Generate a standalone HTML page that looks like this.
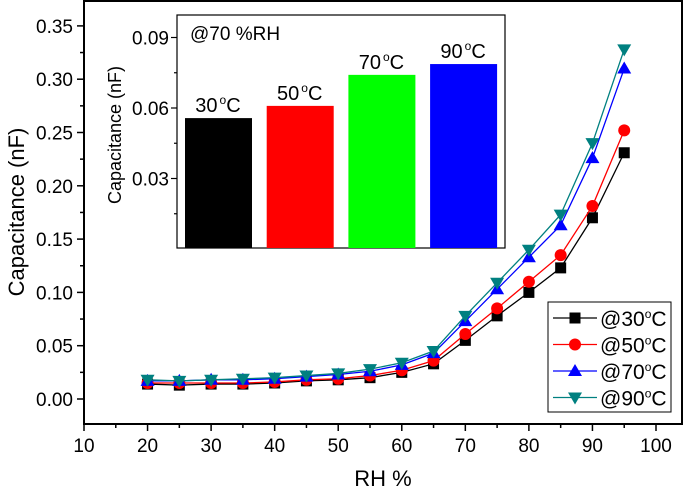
<!DOCTYPE html>
<html><head><meta charset="utf-8"><style>
body{margin:0;background:#fff}
svg{display:block;font-family:"Liberation Sans",Arial,sans-serif}
</style></head><body>
<svg id="chart" width="685" height="493" viewBox="0 0 685 493"></svg>
<script>
const rh=[20,25,30,35,40,45,50,55,60,65,70,75,80,85,90,95];
const s30=[0.014,0.013,0.014,0.014,0.015,0.017,0.018,0.020,0.025,0.033,0.055,0.078,0.100,0.123,0.170,0.231];
const s50=[0.015,0.015,0.015,0.015,0.016,0.018,0.019,0.022,0.027,0.036,0.061,0.085,0.110,0.135,0.181,0.252];
const s70=[0.017,0.017,0.018,0.018,0.019,0.021,0.023,0.026,0.032,0.043,0.073,0.103,0.133,0.163,0.226,0.310];
const s90=[0.018,0.017,0.018,0.019,0.020,0.022,0.024,0.028,0.034,0.045,0.078,0.109,0.140,0.173,0.240,0.328];
const xTicks=[10,20,30,40,50,60,70,80,90,100];
const yTicks=[0.00,0.05,0.10,0.15,0.20,0.25,0.30,0.35];
const barCats=["30","50","70","90"];
const barVals=[0.0557,0.0609,0.0741,0.0787];
const insetTicks=[0.03,0.06,0.09];

const NS="http://www.w3.org/2000/svg";
const svg=document.getElementById('chart');
function el(t,a,p){const e=document.createElementNS(NS,t);for(const k in a)e.setAttribute(k,a[k]);(p||svg).appendChild(e);return e;}
const X=v=>84+(v-10)*(572/90);
const Y=v=>399-v*1066;
const IY=v=>249-v*2350;

let e=el('rect',{x:84,y:1,width:598,height:423,fill:'none',stroke:'#000','stroke-width':2});

for(let v=10;v<=100;v+=5){const major=v%10===0;
 el('line',{x1:X(v),x2:X(v),y1:424,y2:424+(major?7:4),stroke:'#000','stroke-width':1.5});}
xTicks.forEach(v=>{const t=el('text',{x:X(v),y:452,'font-size':19,'text-anchor':'middle'});t.textContent=v;
 });
for(let i=-1;i<=14;i++){const v=i*0.025;const y=Y(v);if(y<2||y>423)continue;const major=i%2===0;
 el('line',{x1:84,x2:84-(major?7:4),y1:y,y2:y,stroke:'#000','stroke-width':1.5});}
yTicks.forEach(v=>{const t=el('text',{x:73,y:Y(v)+7,'font-size':19,'text-anchor':'end'});t.textContent=v.toFixed(2);
 });
e=el('text',{x:383,y:486,'font-size':22,'text-anchor':'middle'});e.textContent='RH %';

e=el('text',{x:0,y:0,'font-size':22,'text-anchor':'middle',transform:'translate(24,212) rotate(-90)'});e.textContent='Capacitance (nF)';


const series=[[s30,'#000','sq','@30'],[s50,'#f00','ci','@50'],[s70,'#00f','tu','@70'],[s90,'#008080','td','@90']];
function marker(type,cx,cy,c,g){
 if(type==='sq')return el('rect',{x:cx-5.5,y:cy-5.5,width:11,height:11,fill:c},g);
 if(type==='ci')return el('circle',{cx:cx,cy:cy,r:6,fill:c},g);
 if(type==='tu')return el('polygon',{points:`${cx},${cy-7} ${cx-7},${cy+5} ${cx+7},${cy+5}`,fill:c},g);
 return el('polygon',{points:`${cx},${cy+7} ${cx-7},${cy-5} ${cx+7},${cy-5}`,fill:c},g);
}
series.forEach(([d,c,m,n])=>{
 const g=el('g',{});
 el('polyline',{points:rh.map((x,i)=>X(x)+','+Y(d[i])).join(' '),fill:'none',stroke:c,'stroke-width':1.3},g);
 rh.forEach((x,i)=>{const p=marker(m,X(x),Y(d[i]),c,g);});
});

const lg=el('g',{});
el('rect',{x:548,y:302,width:123,height:110,fill:'#fff',stroke:'#000','stroke-width':1},lg);
series.forEach(([d,c,m,n],i)=>{const y=318+i*26.5;
 const g=el('g',{},lg);
 el('line',{x1:553,x2:597,y1:y,y2:y,stroke:c,'stroke-width':1.3},g);marker(m,575,y,c,g);
 const t=el('text',{x:600,y:y+8,'font-size':21},g);t.innerHTML=n+'<tspan dy="-8" font-size="12">o</tspan><tspan dy="8">C</tspan>';});

const ig=el('g',{});
el('rect',{x:177,y:15,width:328,height:233,fill:'#fff',stroke:'#000','stroke-width':1.2},ig);
for(let i=1;i<=6;i++){const v=i*0.015;const major=i%2===0;
 el('line',{x1:177,x2:177-(major?6:3),y1:IY(v),y2:IY(v),stroke:'#000','stroke-width':1.2},ig);}
insetTicks.forEach(v=>{const t=el('text',{x:169,y:IY(v)+7,'font-size':19,'text-anchor':'end'},ig);t.textContent=v.toFixed(2);
 });
e=el('text',{x:0,y:0,'font-size':18,'text-anchor':'middle',transform:'translate(121,135) rotate(-90)'},ig);e.textContent='Capacitance (nF)';

e=el('text',{x:190,y:40,'font-size':19},ig);e.textContent='@70 %RH';

const barCols=['#000','#f00','#0f0','#00f'];
barCats.forEach((c,i)=>{const x=185+i*81.7;
 const r=el('rect',{x:x,y:IY(barVals[i]),width:67,height:248-IY(barVals[i]),fill:barCols[i]},ig);
 
 const t=el('text',{x:x+33,y:IY(barVals[i])-6,'font-size':20,'text-anchor':'middle'},ig);
 t.innerHTML=c+'<tspan dx="2" dy="-8" font-size="12">o</tspan><tspan dy="8">C</tspan>';
 });
</script>
</body></html>
